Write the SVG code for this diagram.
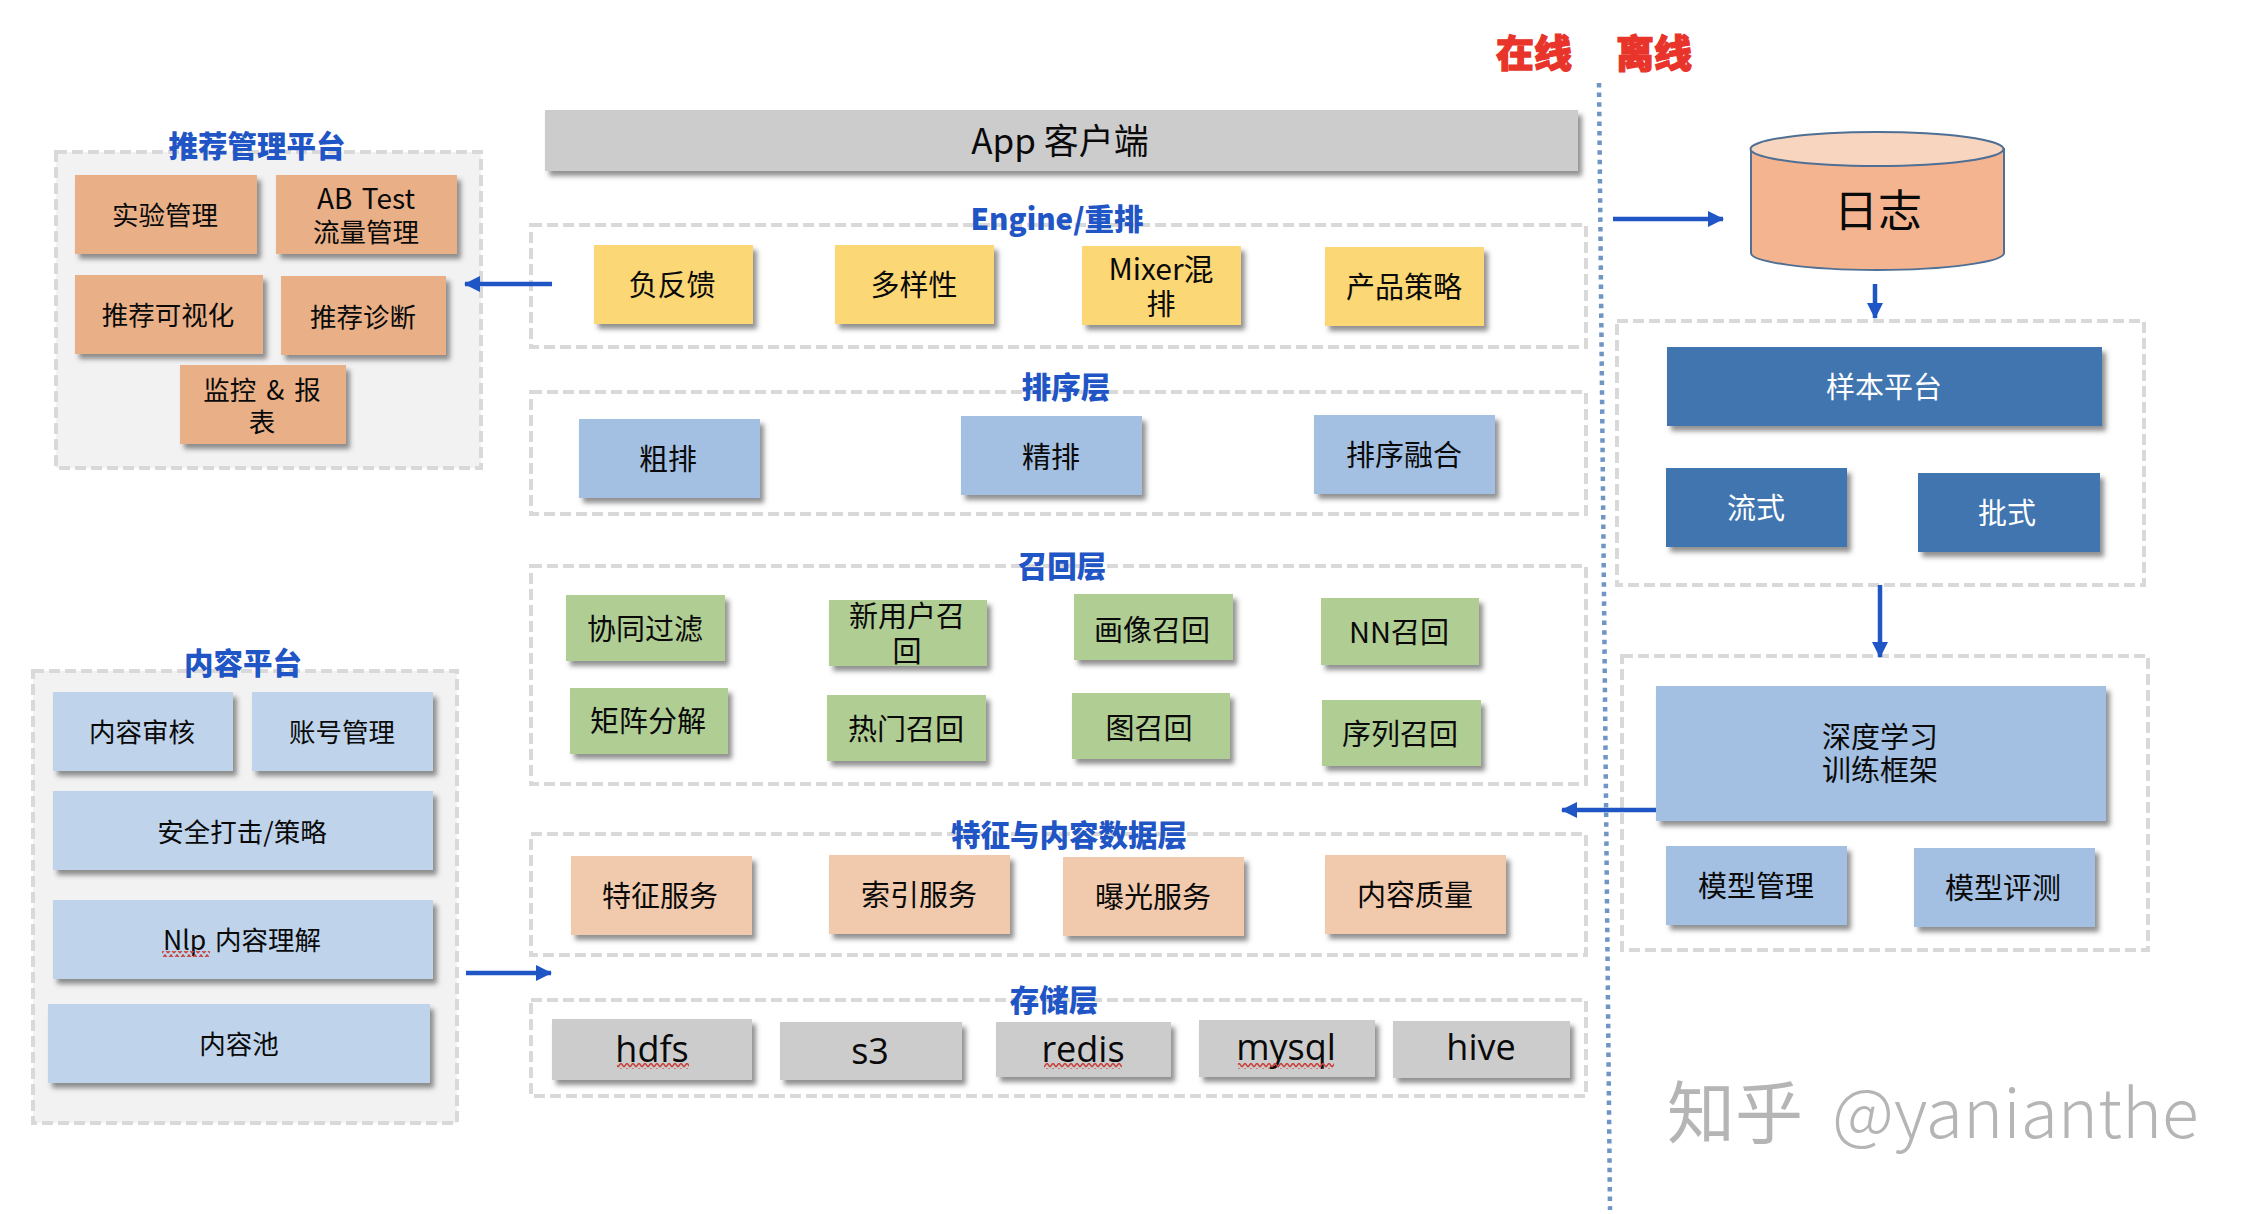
<svg xmlns="http://www.w3.org/2000/svg" width="2254" height="1214" viewBox="0 0 2254 1214">
<style>
text{font-family:"Noto Sans CJK SC","Noto Sans",sans-serif;text-anchor:middle;dominant-baseline:central;fill:#0a0a0a;font-size:29px;transform:translateY(-2px)}
.s{font-size:26.500px}
.w{fill:#fff}
.t{font-size:29.500px;font-weight:900;fill:#1f55c4}
.red{font-size:38px;font-weight:900;fill:#e8342a;stroke:#e8342a;stroke-width:1.2px}
.store{font-family:"Open Sans","Noto Sans",sans-serif;font-size:36px;dominant-baseline:auto;transform:none}
.wm{fill:#b5b5b5;text-anchor:start;dominant-baseline:auto;transform:none}
.panel{fill:none;stroke:#d9d9d9;stroke-width:4;stroke-dasharray:11 5}
.pf{fill:#f2f2f2}
.n{filter:url(#sh)}
.org{fill:#e9b088}.yel{fill:#fbd775}.blu{fill:#a3c0e2}.grn{fill:#b0cd94}.pch{fill:#f1c9ac}.gry{fill:#cdcccd}.lbl{fill:#bfd3ea}.dbl{fill:#4174b0}
.arr{fill:none;stroke:#1f55c4;stroke-width:4.5;marker-end:url(#ah)}
.wave{fill:url(#zig)}
</style>
<defs>
<filter id="sh" x="-10%" y="-10%" width="125%" height="130%"><feDropShadow dx="4" dy="5" stdDeviation="2.5" flood-color="#555" flood-opacity=".65"/></filter>
<marker id="ah" markerUnits="userSpaceOnUse" markerWidth="16" markerHeight="16" refX="15" refY="8" orient="auto"><path d="M0 0L16 8L0 16z" fill="#1f55c4"/></marker>
<pattern id="zig" patternUnits="userSpaceOnUse" width="6" height="6"><path d="M0 5L3 1L6 5" fill="none" stroke="#c8423c" stroke-width="1.500"/></pattern>
</defs>
<rect width="2254" height="1214" fill="#fff"/>

<g id="panel-mgmt"><rect class="panel pf" x="56" y="152" width="425" height="316"/><text class="t" x="257" y="146">推荐管理平台</text></g>
<g id="panel-content"><rect class="panel pf" x="33" y="671" width="424" height="452"/><text class="t" x="243" y="663">内容平台</text></g>
<g id="panel-engine"><rect class="panel" x="531" y="225" width="1055" height="122"/><text class="t" x="1057" y="219">Engine/重排</text></g>
<g id="panel-rank"><rect class="panel" x="531" y="392" width="1055" height="122"/><text class="t" x="1066" y="387">排序层</text></g>
<g id="panel-recall"><rect class="panel" x="531" y="566" width="1055" height="218"/><text class="t" x="1062" y="566">召回层</text></g>
<g id="panel-feature"><rect class="panel" x="531" y="834" width="1055" height="121"/><text class="t" x="1069" y="835">特征与内容数据层</text></g>
<g id="panel-storage"><rect class="panel" x="531" y="1000" width="1055" height="96"/><text class="t" x="1054" y="1000">存储层</text></g>
<g id="panel-sample"><rect class="panel" x="1617" y="321" width="527" height="264"/></g>
<g id="panel-train"><rect class="panel" x="1622" y="656" width="526" height="294"/></g>

<g id="n-exp"><rect class="n org" x="75" y="175" width="182" height="79"/><text class="s" x="165" y="215">实验管理</text></g>
<g id="n-ab"><rect class="n org" x="276" y="175" width="181" height="79"/><text class="s" x="366" y="199" style="font-size:28px;word-spacing:3px">AB Test</text><text class="s" x="366" y="232">流量管理</text></g>
<g id="n-vis"><rect class="n org" x="75" y="275" width="188" height="79"/><text class="s" x="168" y="315">推荐可视化</text></g>
<g id="n-diag"><rect class="n org" x="281" y="276" width="165" height="79"/><text class="s" x="363" y="317">推荐诊断</text></g>
<g id="n-mon"><rect class="n org" x="180" y="365" width="166" height="79"/><text class="s" x="262" y="390" style="word-spacing:4px">监控 &amp; 报</text><text class="s" x="262" y="422">表</text></g>

<g id="n-app"><rect class="n gry" x="545" y="110" width="1033" height="61"/><text x="1060" y="140" style="font-size:35px">App 客户端</text></g>

<g id="n-neg"><rect class="n yel" x="594" y="245" width="159" height="79"/><text x="672" y="285">负反馈</text></g>
<g id="n-div"><rect class="n yel" x="835" y="245" width="159" height="79"/><text x="914" y="285">多样性</text></g>
<g id="n-mix"><rect class="n yel" x="1082" y="246" width="159" height="79"/><text x="1161" y="269" style="font-size:30px">Mixer混</text><text x="1161" y="304">排</text></g>
<g id="n-prod"><rect class="n yel" x="1325" y="247" width="159" height="79"/><text x="1404" y="287">产品策略</text></g>

<g id="n-coarse"><rect class="n blu" x="579" y="419" width="181" height="79"/><text x="668" y="459">粗排</text></g>
<g id="n-fine"><rect class="n blu" x="961" y="416" width="181" height="79"/><text x="1051" y="457">精排</text></g>
<g id="n-fusion"><rect class="n blu" x="1314" y="415" width="181" height="79"/><text x="1404" y="455">排序融合</text></g>

<g id="n-cf"><rect class="n grn" x="566" y="595" width="159" height="66"/><text x="645" y="629">协同过滤</text></g>
<g id="n-new"><rect class="n grn" x="829" y="600" width="158" height="66"/><text x="907" y="616">新用户召</text><text x="907" y="651">回</text></g>
<g id="n-prof"><rect class="n grn" x="1074" y="594" width="159" height="66"/><text x="1152" y="630">画像召回</text></g>
<g id="n-nn"><rect class="n grn" x="1321" y="598" width="158" height="67"/><text x="1399" y="632">NN召回</text></g>
<g id="n-mf"><rect class="n grn" x="570" y="688" width="158" height="66"/><text x="648" y="721">矩阵分解</text></g>
<g id="n-hot"><rect class="n grn" x="827" y="695" width="159" height="66"/><text x="906" y="729">热门召回</text></g>
<g id="n-graph"><rect class="n grn" x="1072" y="693" width="158" height="66"/><text x="1149" y="728">图召回</text></g>
<g id="n-seq"><rect class="n grn" x="1322" y="700" width="159" height="66"/><text x="1400" y="734">序列召回</text></g>

<g id="n-feat"><rect class="n pch" x="571" y="856" width="181" height="79"/><text x="660" y="896">特征服务</text></g>
<g id="n-idx"><rect class="n pch" x="829" y="855" width="181" height="79"/><text x="919" y="895">索引服务</text></g>
<g id="n-exps"><rect class="n pch" x="1063" y="857" width="181" height="79"/><text x="1153" y="897">曝光服务</text></g>
<g id="n-qual"><rect class="n pch" x="1325" y="855" width="181" height="79"/><text x="1415" y="895">内容质量</text></g>

<g id="n-hdfs"><rect class="n gry" x="552" y="1019" width="200" height="61"/><text class="store" x="652" y="1062">hdfs</text><rect class="wave" x="617" y="1063" width="72" height="6"/></g>
<g id="n-s3"><rect class="n gry" x="780" y="1022" width="182" height="58"/><text class="store" x="870" y="1064">s3</text></g>
<g id="n-redis"><rect class="n gry" x="996" y="1022" width="175" height="55"/><text class="store" x="1083" y="1062">redis</text><rect class="wave" x="1044" y="1063" width="78" height="6"/></g>
<g id="n-mysql"><rect class="n gry" x="1199" y="1020" width="176" height="57"/><text class="store" x="1286" y="1060">mysql</text><rect class="wave" x="1238" y="1063" width="96" height="6"/></g>
<g id="n-hive"><rect class="n gry" x="1393" y="1021" width="177" height="57"/><text class="store" x="1481" y="1060">hive</text></g>

<g id="n-audit"><rect class="n lbl" x="53" y="692" width="180" height="79"/><text class="s" x="142" y="732">内容审核</text></g>
<g id="n-acct"><rect class="n lbl" x="252" y="692" width="181" height="79"/><text class="s" x="342" y="732">账号管理</text></g>
<g id="n-sec"><rect class="n lbl" x="53" y="791" width="380" height="79"/><text class="s" x="242" y="832">安全打击/策略</text></g>
<g id="n-nlp"><rect class="n lbl" x="53" y="900" width="380" height="79"/><text class="s" x="242" y="940" style="word-spacing:3px">Nlp 内容理解</text><rect class="wave" x="162" y="951" width="48" height="6"/></g>
<g id="n-pool"><rect class="n lbl" x="48" y="1004" width="382" height="79"/><text class="s" x="239" y="1044">内容池</text></g>

<g id="n-log"><path d="M1751 149V253C1751 262 1808 270 1877 270S2004 262 2004 253V149z" fill="#f4b490" stroke="#4f6f94" stroke-width="2"/><ellipse cx="1877" cy="149" rx="126.500" ry="17" fill="#f8d5bf" stroke="#4f6f94" stroke-width="2"/><text x="1878" y="210" style="font-size:44px">日志</text></g>
<g id="n-sample"><rect class="n dbl" x="1667" y="347" width="435" height="79"/><text class="w" x="1884" y="387">样本平台</text></g>
<g id="n-stream"><rect class="n dbl" x="1666" y="468" width="181" height="79"/><text class="w" x="1756" y="508">流式</text></g>
<g id="n-batch"><rect class="n dbl" x="1918" y="473" width="182" height="79"/><text class="w" x="2007" y="513">批式</text></g>
<g id="n-dl"><rect class="n blu" x="1656" y="686" width="450" height="135"/><text x="1880" y="737">深度学习</text><text x="1880" y="770">训练框架</text></g>
<g id="n-mgmt"><rect class="n blu" x="1666" y="846" width="181" height="79"/><text x="1756" y="886">模型管理</text></g>
<g id="n-eval"><rect class="n blu" x="1914" y="848" width="181" height="79"/><text x="2003" y="888">模型评测</text></g>

<g id="connectors">
<path class="arr" d="M552 284H465"/>
<path class="arr" d="M466 973H551"/>
<path class="arr" d="M1613 219H1723"/>
<path class="arr" d="M1875 284V318"/>
<path class="arr" d="M1880 585V657"/>
<path class="arr" d="M1656 810H1562"/>
</g>

<path id="divider" d="M1599 83L1610 1210" fill="none" stroke="#6f95c5" stroke-width="4.500" stroke-dasharray="4.500 5.100"/>
<g id="side-labels"><text class="red" x="1534" y="52">在线</text><text class="red" x="1654" y="52">离线</text></g>
<g id="watermark"><text class="wm" x="1667" y="1138" style="font-size:68px">知乎</text><text class="wm" x="1832" y="1138" style="font-size:68px;font-weight:300">@yanianthe</text></g>
</svg>
